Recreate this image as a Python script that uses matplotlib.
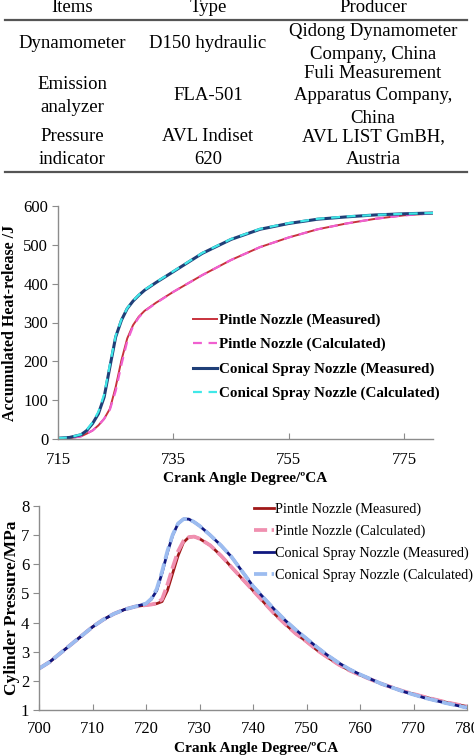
#!/usr/bin/env python3

import matplotlib

matplotlib.use('Agg')
import matplotlib.pyplot as plt


plt.rcParams['font.family'] = ['Liberation Serif', 'DejaVu Serif']

# table contents
TABLE_HEADER = ['Items', 'Type', 'Producer']
TABLE_ROWS = [
    ['Dynamometer', 'D150 hydraulic', 'Qidong Dynamometer\nCompany, China'],
    ['Emission\nanalyzer', 'FLA-501', 'Fuli Measurement\nApparatus Company,\nChina'],
    ['Pressure\nindicator', 'AVL Indiset\n620', 'AVL LIST GmBH,\nAustria'],
]

# accumulated heat release (J) vs crank angle
hr_angle = [715, 717, 719, 720, 721, 722, 723, 724, 725, 726, 727, 728, 729, 730,
            732, 735, 740, 745, 750, 755, 760, 765, 770, 775, 780]
hr_pintle_meas = [0, 2, 7, 14, 22, 35, 52, 78, 134, 203, 259, 293, 315, 330,
                  351, 379, 422, 461, 494, 519, 540, 555, 567, 576, 581]
hr_pintle_calc = [0, 2, 7, 14, 22, 35, 52, 76, 124, 192, 252, 290, 313, 329,
                  350, 379, 422, 461, 494, 519, 540, 555, 567, 576, 581]
hr_conical_meas = [2, 4, 11, 22, 40, 65, 108, 186, 263, 306, 336, 355, 370, 383,
                   403, 431, 478, 514, 540, 555, 566, 572, 577, 580, 582]
hr_conical_calc = [2, 4, 12, 24, 43, 70, 115, 192, 266, 308, 337, 356, 371, 384,
                   404, 432, 479, 515, 541, 556, 567, 573, 577, 580, 582]

# cylinder pressure (MPa) vs crank angle
p_angle = [700, 702, 704, 706, 708, 710, 712, 714, 716, 718, 720, 721, 722, 723,
           724, 725, 726, 727, 728, 729, 730, 732, 734, 736, 738, 740, 742, 744,
           746, 748, 750, 752, 754, 756, 758, 760, 764, 768, 772, 776, 780]
p_pintle_meas = [2.42, 2.65, 2.95, 3.25, 3.55, 3.85, 4.10, 4.30, 4.45, 4.55, 4.60,
                 4.62, 4.65, 4.72, 5.10, 5.70, 6.30, 6.75, 6.93, 6.95, 6.88, 6.65,
                 6.30, 5.90, 5.50, 5.10, 4.70, 4.30, 3.95, 3.62, 3.35, 3.05, 2.80,
                 2.56, 2.36, 2.20, 1.90, 1.65, 1.45, 1.27, 1.12]
p_pintle_calc = [2.42, 2.65, 2.95, 3.25, 3.55, 3.85, 4.10, 4.30, 4.45, 4.55, 4.60,
                 4.62, 4.66, 4.80, 5.30, 5.90, 6.45, 6.80, 6.93, 6.95, 6.88, 6.65,
                 6.30, 5.90, 5.50, 5.10, 4.70, 4.30, 3.95, 3.62, 3.35, 3.05, 2.80,
                 2.56, 2.36, 2.20, 1.90, 1.65, 1.45, 1.27, 1.12]
p_conical_meas = [2.42, 2.65, 2.95, 3.25, 3.55, 3.85, 4.10, 4.30, 4.45, 4.55, 4.65,
                  4.80, 5.10, 5.70, 6.40, 7.00, 7.40, 7.55, 7.55, 7.45, 7.32, 7.00,
                  6.65, 6.25, 5.75, 5.25, 4.85, 4.45, 4.08, 3.75, 3.45, 3.15, 2.87,
                  2.62, 2.40, 2.22, 1.90, 1.64, 1.42, 1.24, 1.08]
p_conical_calc = [2.42, 2.65, 2.95, 3.25, 3.55, 3.85, 4.10, 4.30, 4.45, 4.55, 4.65,
                  4.82, 5.15, 5.75, 6.45, 7.02, 7.40, 7.55, 7.55, 7.45, 7.32, 7.00,
                  6.65, 6.25, 5.75, 5.25, 4.85, 4.45, 4.08, 3.75, 3.45, 3.15, 2.87,
                  2.62, 2.40, 2.22, 1.90, 1.64, 1.42, 1.24, 1.08]

LABELS = [
    'Pintle Nozzle (Measured)',
    'Pintle Nozzle (Calculated)',
    'Conical Spray Nozzle (Measured)',
    'Conical Spray Nozzle (Calculated)',
]

W, H = 474, 756
SPINE = '#8c8c8c'


def fig_rect(left, top, right, bottom):
    return [left / W, 1 - bottom / H, (right - left) / W, (bottom - top) / H]


def style_axes(ax, xpad):
    for side in ('top', 'right'):
        ax.spines[side].set_visible(False)
    for side in ('left', 'bottom'):
        ax.spines[side].set_color(SPINE)
        ax.spines[side].set_linewidth(1.0)
    ax.tick_params(axis='x', direction='in', length=4, color=SPINE, labelsize=12, pad=xpad)
    ax.tick_params(axis='y', direction='out', length=4, color=SPINE, labelsize=12, pad=3)


def draw_table(fig):
    ax = fig.add_axes([0, 1 - 180 / H, 1, 180 / H])
    ax.set_xlim(0, W)
    ax.set_ylim(180, 0)
    ax.axis('off')
    col_x = [72, 208, 373]
    for x, text in zip(col_x, TABLE_HEADER):
        ax.text(x, 7, text, ha='center', va='center', fontsize=13.5)
    ax.plot([5, 467], [20, 20], color='#555555', lw=1.6)
    ax.plot([5, 467], [172, 172], color='#555555', lw=1.6)
    row_y = [43, 96, 148]
    for y, row in zip(row_y, TABLE_ROWS):
        for x, text in zip(col_x, row):
            ax.text(x, y, text, ha='center', va='center', fontsize=13.5,
                    linespacing=1.45)


def draw_heat_release(fig):
    ax = fig.add_axes(fig_rect(58, 206, 433, 439))
    ax.plot(hr_angle, hr_pintle_meas, color='#c8323c', lw=1.4, label=LABELS[0])
    ax.plot(hr_angle, hr_pintle_calc, color='#f060d0', lw=1.6, ls=(0, (4, 3)),
            label=LABELS[1])
    ax.plot(hr_angle, hr_conical_meas, color='#1f3f78', lw=2.2, label=LABELS[2])
    ax.plot(hr_angle, hr_conical_calc, color='#40e8e8', lw=1.6, ls=(0, (4, 3)),
            label=LABELS[3])
    ax.set_xlim(715, 780)
    ax.set_ylim(0, 600)
    ax.set_xticks([715, 735, 755, 775])
    ax.set_yticks(range(0, 601, 100))
    style_axes(ax, 9)
    ax.set_xlabel('Crank Angle Degree/\u00baCA', fontsize=11, fontweight='bold',
                  labelpad=3)
    ax.set_ylabel('Accumulated Heat-release /J', fontsize=11.5, fontweight='bold',
                  labelpad=4)
    ax.legend(loc='upper left', bbox_to_anchor=(0.345, 0.565), frameon=False,
              prop={'weight': 'bold', 'size': 10.8}, handlelength=1.6,
              handletextpad=0.1, labelspacing=0.72, borderaxespad=0)


def draw_pressure(fig):
    ax = fig.add_axes(fig_rect(39, 506, 467, 710))
    ax.plot(p_angle, p_pintle_meas, color='#a01818', lw=2.0, label=LABELS[0])
    ax.plot(p_angle, p_pintle_calc, color='#f090b0', lw=2.7, ls=(0, (3.5, 1.2)),
            label=LABELS[1])
    ax.plot(p_angle, p_conical_meas, color='#101880', lw=2.0, label=LABELS[2])
    ax.plot(p_angle, p_conical_calc, color='#9cbcf0', lw=2.7, ls=(0, (3.5, 1.2)),
            label=LABELS[3])
    ax.set_xlim(700, 780)
    ax.set_ylim(1, 8)
    ax.set_xticks(range(700, 781, 10))
    ax.set_yticks(range(1, 9))
    style_axes(ax, 8)
    ax.set_xlabel('Crank Angle Degree/\u00baCA', fontsize=11, fontweight='bold')
    ax.xaxis.set_label_coords(0.508, -0.155)
    ax.set_ylabel('Cylinder Pressure/MPa', fontsize=12.5, fontweight='bold',
                  labelpad=1)
    ax.legend(loc='upper left', bbox_to_anchor=(0.49, 1.045), frameon=False,
              prop={'size': 10.3}, handlelength=1.4, handletextpad=0.05,
              labelspacing=0.6, borderaxespad=0)


def main():
    fig = plt.figure(figsize=(W / 100, H / 100), dpi=100)
    draw_table(fig)
    draw_heat_release(fig)
    draw_pressure(fig)
    fig.savefig('out.png', dpi=100)
    plt.close(fig)
    return 0


if __name__ == '__main__':
    raise SystemExit(main())
